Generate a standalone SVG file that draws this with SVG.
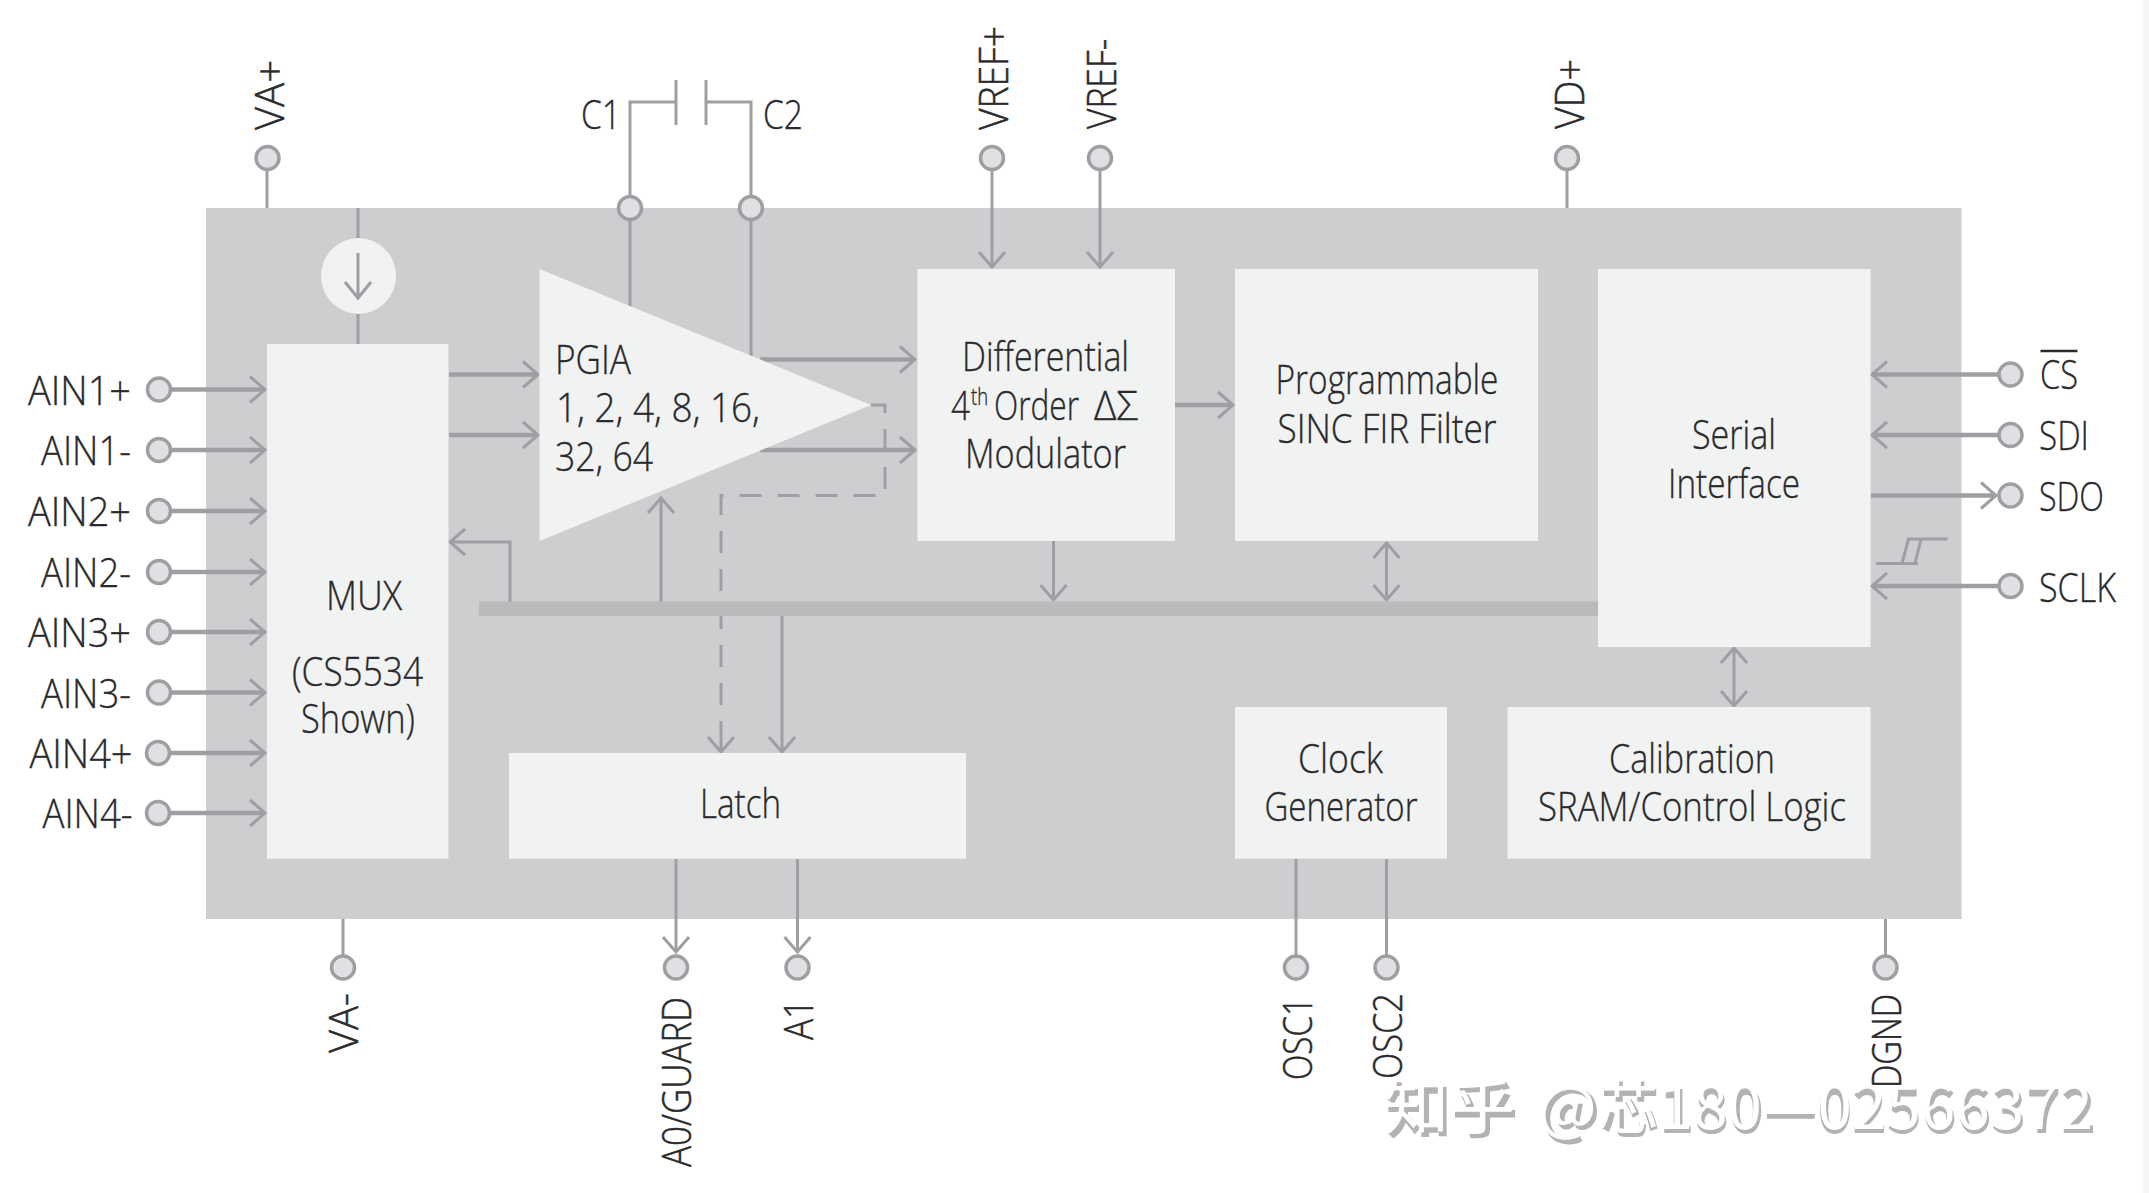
<svg xmlns="http://www.w3.org/2000/svg" width="2149" height="1193" viewBox="0 0 2149 1193">
<style>
.t{font-family:"Open Sans","Liberation Sans",sans-serif;font-weight:300;font-size:40px;fill:#2a2a2c;stroke:#2a2a2c;stroke-width:.35}
.r{font-family:"Open Sans","Liberation Sans",sans-serif;font-weight:300;font-size:40px;fill:#2a2a2c;stroke:#2a2a2c;stroke-width:.5}
.b{fill:#f1f2f2}
.pin{fill:#dfe0e2;stroke:#9d9fa2;stroke-width:3.5}
.c{fill:none;stroke:#9d9fa2;stroke-width:3}
.h{fill:none;stroke:#9d9fa2;stroke-width:4.5}
.a{marker-end:url(#arr)}
.s{marker-start:url(#arrs)}
.d{stroke-dasharray:22 16}
.wm{font-family:"Noto Sans CJK SC",sans-serif;font-size:60px}
.wg{fill:#b3b3b3;font-weight:700}
.ww{fill:#ffffff;font-weight:400}
</style>
<defs>
<marker id="arr" markerUnits="userSpaceOnUse" markerWidth="40" markerHeight="40" refX="20" refY="20" orient="auto" overflow="visible"><path d="M5,7 L20,20 L5,33" fill="none" stroke="#9d9fa2" stroke-width="3"/></marker>
<marker id="arrs" markerUnits="userSpaceOnUse" markerWidth="40" markerHeight="40" refX="20" refY="20" orient="auto" overflow="visible"><path d="M35,7 L20,20 L35,33" fill="none" stroke="#9d9fa2" stroke-width="3"/></marker>
</defs>
<rect width="2149" height="1193" fill="#ffffff"/>
<rect x="2143" y="0" width="6" height="1193" fill="#f6f6f6"/>
<rect id="chip" x="206" y="208" width="1755.500" height="711" fill="#cdced0"/>

<g id="connectors">
<path class="h a" d="M171,389.500H265"/><path class="h a" d="M171,450H265"/><path class="h a" d="M171,511H265"/><path class="h a" d="M171,572H265"/>
<path class="h a" d="M171,632H265"/><path class="h a" d="M171,692.500H265"/><path class="h a" d="M171,753H265"/><path class="h a" d="M171,813H265"/>
<path class="c" d="M267,170V208"/><path class="c" d="M358,208V344"/>
<path class="c" d="M630,196V102H676M676,80V125M706,80V125M706,102H751V196"/>
<path class="c" d="M630,220V310"/><path class="c" d="M751,220V360"/>
<path class="c a" d="M992,170V267"/><path class="c a" d="M1100,170V267"/><path class="c" d="M1567,170V208"/>
<path class="h a" d="M449,374.500H538"/><path class="h a" d="M449,435H538"/>
<path class="h a" d="M760,359.500H915"/><path class="h a" d="M760,450H915"/>
<path class="c d" d="M871,405H885V495.500H721V725"/><path class="c a" d="M721,725V752"/>
<path class="c a" d="M510,602V542H450"/><path class="c a" d="M661,602V498"/>
<path class="c a" d="M782,616V752"/>
<path class="c a" d="M1053.500,541V600"/><path class="c a s" d="M1386.500,543V600"/>
<path class="h a" d="M1175,405H1233"/><path class="c a s" d="M1734,648V706"/>
<path class="h a" d="M1998,374.500H1872"/><path class="h a" d="M1998,435H1872"/><path class="h a" d="M1871,495.500H1996"/><path class="h a" d="M1998,586H1872"/>
<path class="c" d="M1876,563.500H1918M1947.500,539H1908.500L1902,563.500M1921,539L1915,563.500"/>
<path class="c a" d="M676,859V952"/><path class="c a" d="M797.500,859V952"/>
<path class="c" d="M1296,859V956"/><path class="c" d="M1386.500,859V956"/><path class="c" d="M1885.500,919V956"/><path class="c" d="M343,919V956"/>
</g>

<g id="source"><ellipse class="b" cx="358.500" cy="276" rx="37.500" ry="38"/><path class="c" stroke-width="2" d="M358,253V298M345,282L358,298L371,282"/></g>
<g id="mux"><rect class="b" x="267" y="344" width="181.500" height="514.700"/>
<text class="t" x="326" y="610" textLength="76" lengthAdjust="spacingAndGlyphs">MUX</text>
<text class="t" x="292" y="686" textLength="131" lengthAdjust="spacingAndGlyphs">(CS5534</text>
<text class="t" x="301" y="733" textLength="114" lengthAdjust="spacingAndGlyphs">Shown)</text></g>
<g id="pgia"><path class="b" d="M539.500,269L871,405L539.500,541Z"/>
<text class="t" x="555" y="373.500" textLength="76" lengthAdjust="spacingAndGlyphs">PGIA</text>
<text class="t" x="556" y="422" textLength="204" lengthAdjust="spacingAndGlyphs">1, 2, 4, 8, 16,</text>
<text class="t" x="555" y="470.500" textLength="98" lengthAdjust="spacingAndGlyphs">32, 64</text></g>
<g id="modulator"><rect class="b" x="917.500" y="269" width="257.500" height="272"/>
<text class="t" x="962" y="371" textLength="167" lengthAdjust="spacingAndGlyphs">Differential</text>
<text class="t" x="951" y="419.500" textLength="19" lengthAdjust="spacingAndGlyphs">4</text>
<text class="t" x="971" y="405" style="font-size:24px" textLength="17" lengthAdjust="spacingAndGlyphs">th</text>
<text class="t" x="994" y="419.500" textLength="85" lengthAdjust="spacingAndGlyphs">Order</text>
<text class="t" x="1094" y="419.500" textLength="44" lengthAdjust="spacingAndGlyphs">ΔΣ</text>
<text class="t" x="965" y="467.500" textLength="161" lengthAdjust="spacingAndGlyphs">Modulator</text></g>
<g id="filter"><rect class="b" x="1235" y="269" width="303" height="272"/>
<text class="t" x="1275.500" y="394" textLength="223" lengthAdjust="spacingAndGlyphs">Programmable</text>
<text class="t" x="1277.500" y="442.500" textLength="219" lengthAdjust="spacingAndGlyphs">SINC FIR Filter</text></g>
<g id="serial"><rect class="b" x="1598" y="269" width="272.500" height="378"/>
<text class="t" x="1692" y="449" textLength="84" lengthAdjust="spacingAndGlyphs">Serial</text>
<text class="t" x="1668" y="497.500" textLength="132" lengthAdjust="spacingAndGlyphs">Interface</text></g>
<g id="bus"><rect x="479" y="601.500" width="1119" height="14.500" fill="#b9babc"/></g>
<g id="latch"><rect class="b" x="509" y="753" width="457" height="105.700"/>
<text class="t" x="700" y="817.500" textLength="81" lengthAdjust="spacingAndGlyphs">Latch</text></g>
<g id="clock"><rect class="b" x="1235" y="707" width="212" height="151.700"/>
<text class="t" x="1298" y="772.500" textLength="85" lengthAdjust="spacingAndGlyphs">Clock</text>
<text class="t" x="1264.500" y="821" textLength="153" lengthAdjust="spacingAndGlyphs">Generator</text></g>
<g id="calibration"><rect class="b" x="1507.500" y="707" width="363" height="151.700"/>
<text class="t" x="1609" y="772.500" textLength="166" lengthAdjust="spacingAndGlyphs">Calibration</text>
<text class="t" x="1538" y="821" textLength="308" lengthAdjust="spacingAndGlyphs">SRAM/Control Logic</text></g>

<g id="pin-ain1p"><circle class="pin" cx="159" cy="389.500" r="11.500"/><text class="t" x="28" y="404.500" textLength="103" lengthAdjust="spacingAndGlyphs">AIN1+</text></g>
<g id="pin-ain1m"><circle class="pin" cx="159" cy="450" r="11.500"/><text class="t" x="41" y="465" textLength="90" lengthAdjust="spacingAndGlyphs">AIN1-</text></g>
<g id="pin-ain2p"><circle class="pin" cx="159" cy="511" r="11.500"/><text class="t" x="28" y="526" textLength="103" lengthAdjust="spacingAndGlyphs">AIN2+</text></g>
<g id="pin-ain2m"><circle class="pin" cx="159" cy="572" r="11.500"/><text class="t" x="41" y="586.500" textLength="90" lengthAdjust="spacingAndGlyphs">AIN2-</text></g>
<g id="pin-ain3p"><circle class="pin" cx="159" cy="632" r="11.500"/><text class="t" x="28" y="646.500" textLength="103" lengthAdjust="spacingAndGlyphs">AIN3+</text></g>
<g id="pin-ain3m"><circle class="pin" cx="159" cy="692.500" r="11.500"/><text class="t" x="41" y="707.500" textLength="90" lengthAdjust="spacingAndGlyphs">AIN3-</text></g>
<g id="pin-ain4p"><circle class="pin" cx="158" cy="753" r="11.500"/><text class="t" x="29.500" y="767.500" textLength="103" lengthAdjust="spacingAndGlyphs">AIN4+</text></g>
<g id="pin-ain4m"><circle class="pin" cx="158" cy="813" r="11.500"/><text class="t" x="42.500" y="827.500" textLength="90" lengthAdjust="spacingAndGlyphs">AIN4-</text></g>

<g id="pin-vap"><circle class="pin" cx="267.500" cy="158" r="11.500"/><text class="r" transform="translate(284,130) rotate(-90)" textLength="70" lengthAdjust="spacingAndGlyphs">VA+</text></g>
<g id="pin-c1"><circle class="pin" cx="630" cy="208" r="11.500"/><text class="t" x="581" y="128.500" textLength="40" lengthAdjust="spacingAndGlyphs">C1</text></g>
<g id="pin-c2"><circle class="pin" cx="751" cy="208" r="11.500"/><text class="t" x="763" y="128.500" textLength="40" lengthAdjust="spacingAndGlyphs">C2</text></g>
<g id="pin-vrefp"><circle class="pin" cx="992" cy="158" r="11.500"/><text class="r" transform="translate(1008,130) rotate(-90)" textLength="104" lengthAdjust="spacingAndGlyphs">VREF+</text></g>
<g id="pin-vrefm"><circle class="pin" cx="1100" cy="158" r="11.500"/><text class="r" transform="translate(1116,129) rotate(-90)" textLength="90" lengthAdjust="spacingAndGlyphs">VREF-</text></g>
<g id="pin-vdp"><circle class="pin" cx="1567" cy="158" r="11.500"/><text class="r" transform="translate(1584,129) rotate(-90)" textLength="70" lengthAdjust="spacingAndGlyphs">VD+</text></g>

<g id="pin-cs"><circle class="pin" cx="2010.500" cy="374.500" r="11.500"/><text class="t" x="2040" y="388.500" textLength="38" lengthAdjust="spacingAndGlyphs">CS</text><path d="M2040.500,351H2077.500" stroke="#2a2a2c" stroke-width="2.500"/></g>
<g id="pin-sdi"><circle class="pin" cx="2010.500" cy="435" r="11.500"/><text class="t" x="2039" y="449.500" textLength="50" lengthAdjust="spacingAndGlyphs">SDI</text></g>
<g id="pin-sdo"><circle class="pin" cx="2010.500" cy="495.500" r="11.500"/><text class="t" x="2039" y="510.500" textLength="65" lengthAdjust="spacingAndGlyphs">SDO</text></g>
<g id="pin-sclk"><circle class="pin" cx="2010.500" cy="586" r="11.500"/><text class="t" x="2039" y="601.500" textLength="77" lengthAdjust="spacingAndGlyphs">SCLK</text></g>

<g id="pin-vam"><circle class="pin" cx="343" cy="967.500" r="11.500"/><text class="r" transform="translate(358,1053) rotate(-90)" textLength="60" lengthAdjust="spacingAndGlyphs">VA-</text></g>
<g id="pin-a0"><circle class="pin" cx="676" cy="967.500" r="11.500"/><text class="r" transform="translate(691,1167) rotate(-90)" textLength="170" lengthAdjust="spacingAndGlyphs">A0/GUARD</text></g>
<g id="pin-a1"><circle class="pin" cx="797.500" cy="967.500" r="11.500"/><text class="r" transform="translate(813,1040) rotate(-90)" textLength="41" lengthAdjust="spacingAndGlyphs">A1</text></g>
<g id="pin-osc1"><circle class="pin" cx="1296" cy="967.500" r="11.500"/><text class="r" transform="translate(1312,1080) rotate(-90)" textLength="83" lengthAdjust="spacingAndGlyphs">OSC1</text></g>
<g id="pin-osc2"><circle class="pin" cx="1386.500" cy="967.500" r="11.500"/><text class="r" transform="translate(1402,1079) rotate(-90)" textLength="86" lengthAdjust="spacingAndGlyphs">OSC2</text></g>
<g id="pin-dgnd"><circle class="pin" cx="1885.500" cy="967.500" r="11.500"/><text class="r" transform="translate(1901,1088) rotate(-90)" textLength="94" lengthAdjust="spacingAndGlyphs">DGND</text></g>

<g id="watermark">
<text class="wm wg" x="1386" y="1133" textLength="132" lengthAdjust="spacingAndGlyphs">知乎</text>
<text class="wm wg" x="1541" y="1133" textLength="555" lengthAdjust="spacingAndGlyphs">@芯180—02566372</text>
<text class="wm ww" x="1383" y="1129" textLength="132" lengthAdjust="spacingAndGlyphs">知乎</text>
<text class="wm ww" x="1538" y="1129" textLength="555" lengthAdjust="spacingAndGlyphs">@芯180—02566372</text>
</g>
</svg>
